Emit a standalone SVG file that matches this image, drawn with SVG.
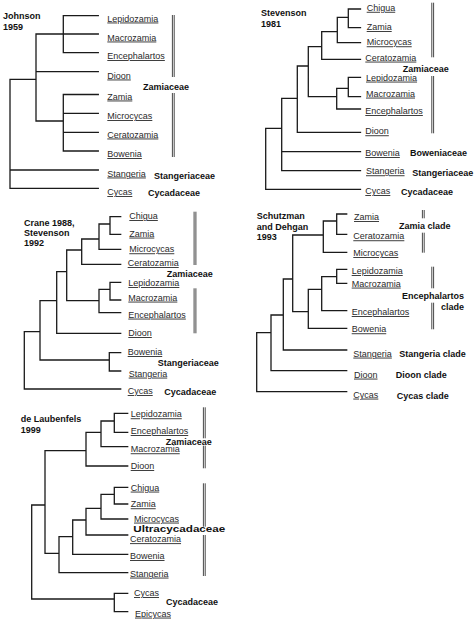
<svg xmlns="http://www.w3.org/2000/svg" width="474" height="620" viewBox="0 0 474 620">
<style>
.bg{fill:#ffffff}
.e{fill:none;stroke:#1a1a1a;stroke-width:1.3;stroke-linecap:square}
.bar{fill:none;stroke:#333333;stroke-width:0.9}
text{font-family:"Liberation Sans",Arial,sans-serif;font-size:9px}
.sp{fill:#2a2a2a;text-decoration:underline}
.lb{fill:#111111;font-weight:bold}
.tt{fill:#111111;font-weight:bold}
</style>
<rect class="bg" x="0" y="0" width="474" height="620"/>

<!-- ===== Johnson 1959 ===== -->
<g id="johnson">
  <text class="tt" x="3" y="19">Johnson</text>
  <text class="tt" x="3" y="29.5">1959</text>
  <g id="johnson-connectors">
    <path class="e" d="M98.3,15.7 H63.3 V52.7 H98.3 M36,34 H98.3 M36,34 V121 M36,71.7 H98.3 M36,79.3 H10 V188.3 H98.3 M10,170 H98.3 M36,121 H63.3 M98.3,94.5 H63.3 V151 H98.3 M63.3,113.3 H98.3 M63.3,132.3 H98.3"/>
    <path class="bar" d="M172.4,15 V77 M174.2,15 V77 M172.4,93 V157 M174.2,93 V157"/>
  </g>
  <g id="j-lepidozamia"><text class="sp" x="107.3" y="21.5">Lepidozamia</text></g>
  <g id="j-macrozamia"><text class="sp" x="107.3" y="40.5">Macrozamia</text></g>
  <g id="j-encephalartos"><text class="sp" x="107.3" y="59">Encephalartos</text></g>
  <g id="j-dioon"><text class="sp" x="107.3" y="78.5">Dioon</text></g>
  <g id="j-zamia"><text class="sp" x="107.3" y="99.5">Zamia</text></g>
  <g id="j-microcycas"><text class="sp" x="107.3" y="119">Microcycas</text></g>
  <g id="j-ceratozamia"><text class="sp" x="107.3" y="137.5">Ceratozamia</text></g>
  <g id="j-bowenia"><text class="sp" x="107.3" y="157">Bowenia</text></g>
  <g id="j-stangeria"><text class="sp" x="107.3" y="176.5">Stangeria</text></g>
  <g id="j-cycas"><text class="sp" x="107.3" y="195">Cycas</text></g>
  <g id="j-zamiaceae"><text class="lb" x="143" y="90">Zamiaceae</text></g>
  <g id="j-stangeriaceae"><text class="lb" x="154" y="179">Stangeriaceae</text></g>
  <g id="j-cycadaceae"><text class="lb" x="148" y="195.5">Cycadaceae</text></g>
</g>

<!-- ===== Stevenson 1981 ===== -->
<g id="stevenson">
  <text class="tt" x="261" y="16">Stevenson</text>
  <text class="tt" x="261" y="27.3">1981</text>
  <g id="stevenson-connectors">
    <path class="e" d="M360.5,9 H348.3 V27.7 H360.5 M348.3,17.3 H337.3 V42.7 H360.5 M337.3,31.7 H321.7 V59.3 H360.5 M321.7,46.7 H308.3 V96.7 H336.7 M360.5,77.3 H348.3 V96.7 H360.5 M348.3,88.3 H336.7 V109 H360.5 M308.3,66 H297.3 V132.3 H360.5 M297.3,98.3 H281.7 V170.7 H360.5 M281.7,151.7 H360.5 M281.7,128.3 H265.7 V189.3 H360.5"/>
    <path class="bar" d="M431.8,2.7 V57.3 M433.6,2.7 V57.3 M431.8,76 V133.3 M433.6,76 V133.3"/>
  </g>
  <g id="s-chigua"><text class="sp" x="366.7" y="10.8">Chigua</text></g>
  <g id="s-zamia"><text class="sp" x="366.7" y="30">Zamia</text></g>
  <g id="s-microcycas"><text class="sp" x="366.7" y="45.3">Microcycas</text></g>
  <g id="s-ceratozamia"><text class="sp" x="365.3" y="60.6">Ceratozamia</text></g>
  <g id="s-lepidozamia"><text class="sp" x="366" y="80.6">Lepidozamia</text></g>
  <g id="s-macrozamia"><text class="sp" x="366" y="96.6">Macrozamia</text></g>
  <g id="s-encephalartos"><text class="sp" x="365.3" y="114">Encephalartos</text></g>
  <g id="s-dioon"><text class="sp" x="365.3" y="134.3">Dioon</text></g>
  <g id="s-bowenia"><text class="sp" x="365.3" y="156">Bowenia</text></g>
  <g id="s-stangeria"><text class="sp" x="366" y="174.3">Stangeria</text></g>
  <g id="s-cycas"><text class="sp" x="365.3" y="194">Cycas</text></g>
  <g id="s-zamiaceae"><text class="lb" x="402.7" y="71.6">Zamiaceae</text></g>
  <g id="s-boweniaceae"><text class="lb" x="410" y="155.6">Boweniaceae</text></g>
  <g id="s-stangeriaceae"><text class="lb" x="412.3" y="176">Stangeriaceae</text></g>
  <g id="s-cycadaceae"><text class="lb" x="401" y="195">Cycadaceae</text></g>
</g>

<!-- ===== Crane 1988, Stevenson 1992 ===== -->
<g id="crane">
  <text class="tt" x="24" y="226">Crane 1988,</text>
  <text class="tt" x="24" y="236">Stevenson</text>
  <text class="tt" x="24" y="246">1992</text>
  <g id="crane-connectors">
    <path class="e" d="M120.7,216.7 H110 V234.3 H120.7 M110,224 H99 V249.3 H120.7 M99,239 H81.7 V264.3 H120.7 M81.7,250 H66.7 V300.7 H99 M120.7,282.3 H110 V300 H120.7 M110,289.3 H99 V312.7 H120.7 M66.7,271.7 H56.7 V333.3 H120.7 M56.7,300.7 H40 V360 H109.3 M120.7,352.7 H109.3 V371 H120.7 M40,331.7 H24.3 V389 H120.7"/>
    <path class="bar" d="M194.1,211.7 V265 M195.9,211.7 V265 M194.1,288.3 V333.3 M195.9,288.3 V333.3"/>
  </g>
  <g id="c-chigua"><text class="sp" x="129.3" y="219">Chigua</text></g>
  <g id="c-zamia"><text class="sp" x="129.3" y="236.6">Zamia</text></g>
  <g id="c-microcycas"><text class="sp" x="129.3" y="252.3">Microcycas</text></g>
  <g id="c-ceratozamia"><text class="sp" x="127.7" y="266">Ceratozamia</text></g>
  <g id="c-lepidozamia"><text class="sp" x="128.3" y="286">Lepidozamia</text></g>
  <g id="c-macrozamia"><text class="sp" x="128.3" y="300.6">Macrozamia</text></g>
  <g id="c-encephalartos"><text class="sp" x="128.3" y="317.6">Encephalartos</text></g>
  <g id="c-dioon"><text class="sp" x="128.3" y="336">Dioon</text></g>
  <g id="c-bowenia"><text class="sp" x="127.7" y="355">Bowenia</text></g>
  <g id="c-stangeria"><text class="sp" x="128.7" y="376.6">Stangeria</text></g>
  <g id="c-cycas"><text class="sp" x="127.7" y="394">Cycas</text></g>
  <g id="c-zamiaceae"><text class="lb" x="166.7" y="277.3">Zamiaceae</text></g>
  <g id="c-stangeriaceae"><text class="lb" x="157.7" y="366">Stangeriaceae</text></g>
  <g id="c-cycadaceae"><text class="lb" x="164.3" y="395">Cycadaceae</text></g>
</g>

<!-- ===== Schutzman and Dehgan 1993 ===== -->
<g id="schutzman">
  <text class="tt" x="256.7" y="219">Schutzman</text>
  <text class="tt" x="256.7" y="229.5">and Dehgan</text>
  <text class="tt" x="256.7" y="239.5">1993</text>
  <g id="schutzman-connectors">
    <path class="e" d="M346.7,214 H336.7 V234.3 H346.7 M336.7,221 H323.3 V252.3 H346.7 M323.3,235 H292.7 V311.7 H308.3 M346.7,269.3 H336.7 V283.3 H346.7 M336.7,276.7 H321.7 V310.7 H346.7 M321.7,289.3 H308.3 V328.3 H346.7 M292.7,279 H283.3 V350 H346.7 M283.3,315 H271 V370.7 H346.7 M271,332.7 H256.7 V391.7 H346.7"/>
    <path class="bar" d="M422.4,210 V218.3 M424.2,210 V218.3 M422.4,232.7 V252.7 M424.2,232.7 V252.7 M431.8,266.7 V288.3 M433.6,266.7 V288.3 M431.8,302.7 V329.3 M433.6,302.7 V329.3"/>
  </g>
  <g id="d-zamia"><text class="sp" x="354" y="220">Zamia</text></g>
  <g id="d-ceratozamia"><text class="sp" x="353.3" y="239.3">Ceratozamia</text></g>
  <g id="d-microcycas"><text class="sp" x="353.3" y="256">Microcycas</text></g>
  <g id="d-lepidozamia"><text class="sp" x="351.7" y="274">Lepidozamia</text></g>
  <g id="d-macrozamia"><text class="sp" x="351.7" y="286.6">Macrozamia</text></g>
  <g id="d-encephalartos"><text class="sp" x="351.7" y="315">Encephalartos</text></g>
  <g id="d-bowenia"><text class="sp" x="351.7" y="332.3">Bowenia</text></g>
  <g id="d-stangeria"><text class="sp" x="353.3" y="356.6">Stangeria</text></g>
  <g id="d-dioon"><text class="sp" x="354" y="377.6">Dioon</text></g>
  <g id="d-cycas"><text class="sp" x="353.3" y="397.6">Cycas</text></g>
  <g id="d-zamia-clade"><text class="lb" x="399" y="229.3">Zamia clade</text></g>
  <g id="d-encephalartos-clade"><text class="lb" x="464" y="299.3" text-anchor="end">Encephalartos</text><text class="lb" x="464" y="310" text-anchor="end">clade</text></g>
  <g id="d-stangeria-clade"><text class="lb" x="399.3" y="356.6">Stangeria clade</text></g>
  <g id="d-dioon-clade"><text class="lb" x="395.7" y="378.3">Dioon clade</text></g>
  <g id="d-cycas-clade"><text class="lb" x="396.7" y="399.3">Cycas clade</text></g>
</g>

<!-- ===== de Laubenfels 1999 ===== -->
<g id="delaubenfels">
  <text class="tt" x="20.7" y="422.3">de Laubenfels</text>
  <text class="tt" x="20.7" y="432.6">1999</text>
  <g id="delaubenfels-connectors">
    <path class="e" d="M127.7,413.3 H114.3 V432.3 H127.7 M114.3,421 H101 V446.7 H127.7 M101,432.3 H86 V466 H127.7 M86,450.7 H45 V553.3 H59 M127.7,487.3 H114.3 V504 H127.7 M114.3,494.3 H101 V519 H127.7 M101,508.3 H86 V535 H127.7 M86,520 H72.7 V554.3 H127.7 M72.7,536.7 H59 V572.7 H127.7 M45,505 H31.7 V599 H114.3 M127.7,593.3 H114.3 V611.7 H127.7"/>
    <path class="bar" d="M203.4,407.3 V438.3 M205.2,407.3 V438.3 M203.4,445.7 V468.3 M205.2,445.7 V468.3 M203.4,483.3 V526.7 M205.2,483.3 V526.7 M203.4,535 V576 M205.2,535 V576"/>
  </g>
  <g id="l-lepidozamia"><text class="sp" x="130.7" y="417.3">Lepidozamia</text></g>
  <g id="l-encephalartos"><text class="sp" x="130.7" y="434">Encephalartos</text></g>
  <g id="l-macrozamia"><text class="sp" x="130.7" y="452.3">Macrozamia</text></g>
  <g id="l-dioon"><text class="sp" x="130.7" y="469">Dioon</text></g>
  <g id="l-chigua"><text class="sp" x="130.7" y="490.6">Chigua</text></g>
  <g id="l-zamia"><text class="sp" x="130.7" y="507.3">Zamia</text></g>
  <g id="l-microcycas"><text class="sp" x="134" y="521.6">Microcycas</text></g>
  <g id="l-ceratozamia"><text class="sp" x="130" y="542.2">Ceratozamia</text></g>
  <g id="l-bowenia"><text class="sp" x="130" y="559">Bowenia</text></g>
  <g id="l-stangeria"><text class="sp" x="130" y="576.6">Stangeria</text></g>
  <g id="l-cycas"><text class="sp" x="134" y="596">Cycas</text></g>
  <g id="l-epicycas"><text class="sp" x="135" y="616.6">Epicycas</text></g>
  <g id="l-zamiaceae"><text class="lb" x="165.7" y="445">Zamiaceae</text></g>
  <g id="l-ultracycadaceae"><text class="lb" x="133.3" y="532.3" style="font-size:9.5px" textLength="92" lengthAdjust="spacingAndGlyphs">Ultracycadaceae</text></g>
  <g id="l-cycadaceae"><text class="lb" x="166" y="605">Cycadaceae</text></g>
</g>
</svg>
